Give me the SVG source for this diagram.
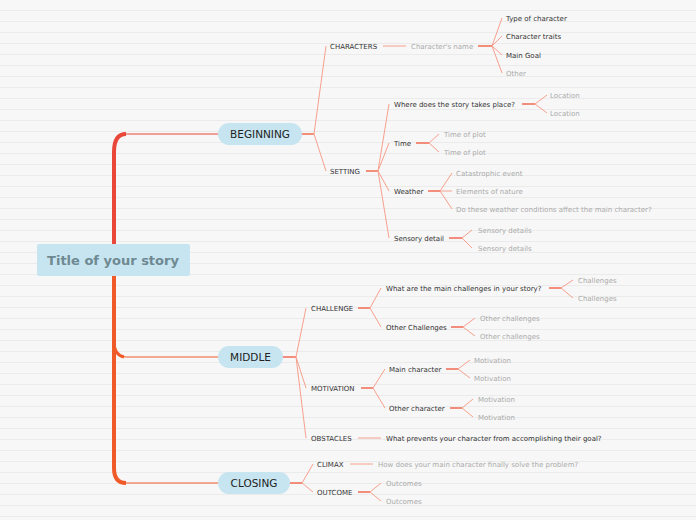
<svg xmlns="http://www.w3.org/2000/svg" width="696" height="520" viewBox="0 0 696 520">
<defs>
<pattern id="bg" width="696" height="11" patternUnits="userSpaceOnUse"><rect width="696" height="11" fill="#f7f7f7"/><line x1="0" y1="10.5" x2="696" y2="10.5" stroke="#ebebeb" stroke-width="1"/></pattern>
<style>
text{font-family:"DejaVu Sans",Verdana,sans-serif;font-size:7px;fill:#333}
.g{fill:#aaa}
.m{font-size:10.5px;fill:#222;text-anchor:middle}
.pill{fill:#c6e5f1}
.c{fill:none;stroke:#f7a08d;stroke-width:1}
.s{fill:none;stroke:#f26b55;stroke-width:1.5}
</style>
</defs>
<rect width="696" height="520" fill="url(#bg)"/>
<g id="connectors">
<path d="M114,244 V146 Q114,134 126,134 H218" fill="none" stroke="#e8473a" stroke-width="1"/>
<path d="M114,244 V152 Q114,134 126,134" fill="none" stroke="#e8473a" stroke-width="4"/>
<path d="M114,276 V345 Q114,357 126,357 H218" fill="none" stroke="#f05a28" stroke-width="1"/>
<path d="M114,276 V470 Q114,483 126,483 H218" fill="none" stroke="#f05a28" stroke-width="1"/>
<path d="M114,276 V468 Q114,483 126,483" fill="none" stroke="#f05a28" stroke-width="4"/>
<path d="M114,276 V342 Q114,355 124,357" fill="none" stroke="#f05a28" stroke-width="3"/>
<path class="s" d="M302,134 H314"/><path class="c" d="M314,134 L326,46 M314,134 L326,171"/>
<path class="c" d="M383,46 H406"/><path class="s" d="M478,46 H492"/><path class="c" d="M492,46 L502,18 M492,46 L502,36 M492,46 L502,55 M492,46 L502,73"/>
<path class="s" d="M366,171 H378"/><path class="c" d="M378,171 L389,104 M378,171 L389,143 M378,171 L389,191 M378,171 L389,238"/>
<path class="s" d="M522,104 H535"/><path class="c" d="M535,104 L547,95 M535,104 L547,113"/>
<path class="s" d="M416,143 H429"/><path class="c" d="M429,143 L439,134 M429,143 L439,152"/>
<path class="s" d="M428,191 H440"/><path class="c" d="M440,191 L452,173 M440,191 H452 M440,191 L452,209"/>
<path class="s" d="M449,238 H462"/><path class="c" d="M462,238 L472,230 M462,238 L472,248"/>
<path class="s" d="M283,357 H296"/><path class="c" d="M296,357 L306,308 M296,357 L306,388 M296,357 L306,438"/>
<path class="s" d="M358,308 H370"/><path class="c" d="M370,308 L381,288 M370,308 L381,327"/>
<path class="s" d="M549,288 H561"/><path class="c" d="M561,288 L573,280 M561,288 L573,298"/>
<path class="s" d="M451,327 H463"/><path class="c" d="M463,327 L475,318 M463,327 L475,336"/>
<path class="s" d="M361,388 H373"/><path class="c" d="M373,388 L385,369 M373,388 L385,408"/>
<path class="s" d="M446,369 H458"/><path class="c" d="M458,369 L470,360 M458,369 L470,378"/>
<path class="s" d="M450,408 H462"/><path class="c" d="M462,408 L473,399 M462,408 L473,417"/>
<path class="c" d="M358,438 H381"/>
<path class="s" d="M290,483 H302"/><path class="c" d="M302,483 L313,464 M302,483 L313,492"/>
<path class="c" d="M350,464 H373"/>
<path class="s" d="M358,492 H370"/><path class="c" d="M370,492 L381,483 M370,492 L381,501"/>
</g>
<g id="root"><rect x="37" y="244" width="153" height="32" rx="2" class="pill"/><text x="113" y="265" text-anchor="middle" style="font-size:13px;font-weight:bold;fill:#6f8991">Title of your story</text></g>
<g id="beginning"><rect x="218" y="123" width="84" height="22" rx="11" class="pill"/><text x="260" y="138" class="m">BEGINNING</text></g>
<g id="middle"><rect x="218" y="346" width="65" height="22" rx="11" class="pill"/><text x="250.5" y="361" class="m">MIDDLE</text></g>
<g id="closing"><rect x="218" y="472" width="72" height="22" rx="11" class="pill"/><text x="254" y="487" class="m">CLOSING</text></g>
<g id="characters"><text x="330" y="48.5">CHARACTERS</text></g>
<g id="charname"><text x="411" y="48.5" class="g">Character's name</text></g>
<g id="c1"><text x="506" y="20.5">Type of character</text></g>
<g id="c2"><text x="506" y="38.5">Character traits</text></g>
<g id="c3"><text x="506" y="57.5">Main Goal</text></g>
<g id="c4"><text x="506" y="75.5" class="g">Other</text></g>
<g id="setting"><text x="330" y="173.5">SETTING</text></g>
<g id="where"><text x="394" y="106.5">Where does the story takes place?</text></g>
<g id="loc1"><text x="550" y="97.5" class="g">Location</text></g>
<g id="loc2"><text x="550" y="115.5" class="g">Location</text></g>
<g id="time"><text x="394" y="145.5">Time</text></g>
<g id="t1"><text x="444" y="136.5" class="g">Time of plot</text></g>
<g id="t2"><text x="444" y="154.5" class="g">Time of plot</text></g>
<g id="weather"><text x="394" y="193.5">Weather</text></g>
<g id="w1"><text x="456" y="175.5" class="g">Catastrophic event</text></g>
<g id="w2"><text x="456" y="193.5" class="g">Elements of nature</text></g>
<g id="w3"><text x="456" y="211.5" class="g">Do these weather conditions affect the main character?</text></g>
<g id="sensory"><text x="394" y="240.5">Sensory detail</text></g>
<g id="s1"><text x="478" y="232.5" class="g">Sensory details</text></g>
<g id="s2"><text x="478" y="250.5" class="g">Sensory details</text></g>
<g id="challenge"><text x="311" y="310.5">CHALLENGE</text></g>
<g id="mainch"><text x="386" y="290.5">What are the main challenges in your story?</text></g>
<g id="ch1"><text x="578" y="282.5" class="g">Challenges</text></g>
<g id="ch2"><text x="578" y="300.5" class="g">Challenges</text></g>
<g id="otherch"><text x="386" y="329.5">Other Challenges</text></g>
<g id="oc1"><text x="480" y="320.5" class="g">Other challenges</text></g>
<g id="oc2"><text x="480" y="338.5" class="g">Other challenges</text></g>
<g id="motivation"><text x="311" y="390.5">MOTIVATION</text></g>
<g id="maincharacter"><text x="389" y="371.5">Main character</text></g>
<g id="m1"><text x="474" y="362.5" class="g">Motivation</text></g>
<g id="m2"><text x="474" y="380.5" class="g">Motivation</text></g>
<g id="othercharacter"><text x="389" y="410.5">Other character</text></g>
<g id="m3"><text x="478" y="401.5" class="g">Motivation</text></g>
<g id="m4"><text x="478" y="419.5" class="g">Motivation</text></g>
<g id="obstacles"><text x="311" y="440.5">OBSTACLES</text></g>
<g id="prevents"><text x="386" y="440.5">What prevents your character from accomplishing their goal?</text></g>
<g id="climax"><text x="317" y="466.5">CLIMAX</text></g>
<g id="solve"><text x="378" y="466.5" class="g">How does your main character finally solve the problem?</text></g>
<g id="outcome"><text x="317" y="494.5">OUTCOME</text></g>
<g id="o1"><text x="386" y="485.5" class="g">Outcomes</text></g>
<g id="o2"><text x="386" y="503.5" class="g">Outcomes</text></g>
</svg>
